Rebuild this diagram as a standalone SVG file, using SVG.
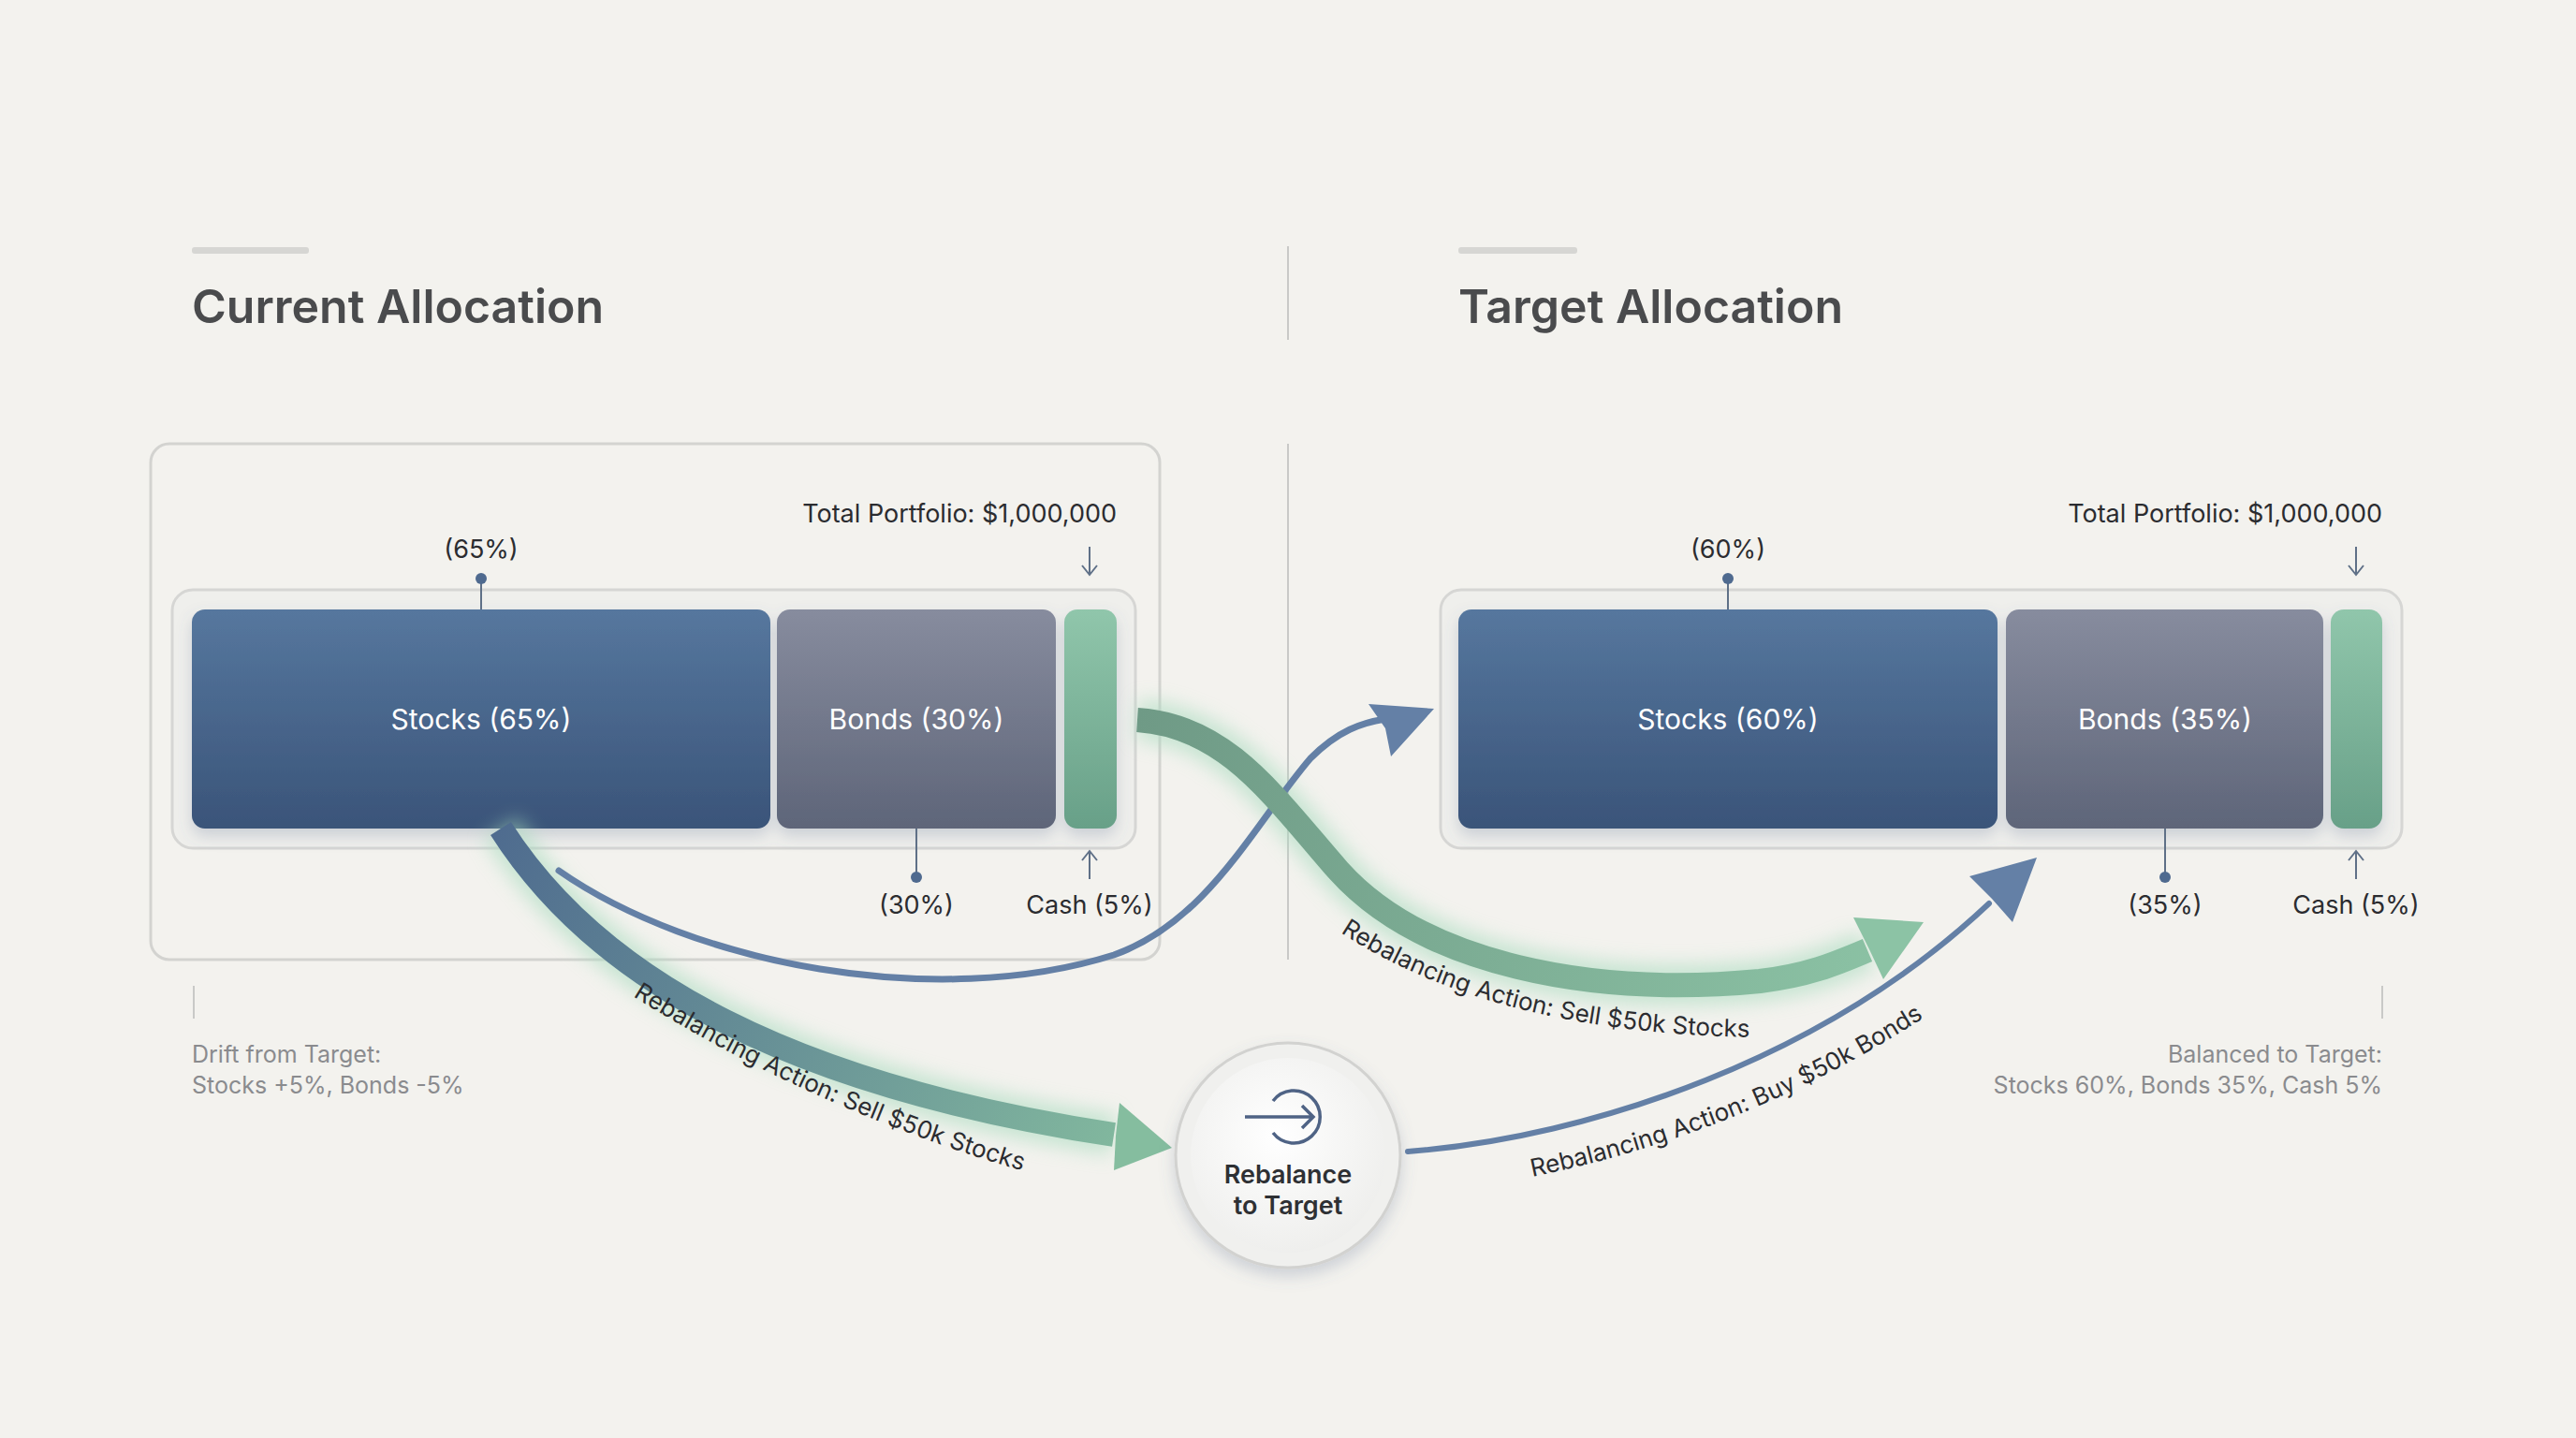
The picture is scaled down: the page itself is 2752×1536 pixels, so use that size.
<svg xmlns="http://www.w3.org/2000/svg" width="2752" height="1536" viewBox="0 0 2752 1536">
<defs>
<style>
.title{font-family:Inter,"Liberation Sans",sans-serif;font-size:50px;font-weight:600;fill:#4a4b4d}
.lbl{font-family:Inter,"Liberation Sans",sans-serif;font-size:27px;fill:#2b2c30}
.bar{font-family:Inter,"Liberation Sans",sans-serif;font-size:30px;fill:#ffffff;text-anchor:middle}
.note{font-family:Inter,"Liberation Sans",sans-serif;font-size:25px;fill:#8a8b8e}
.act{font-family:Inter,"Liberation Sans",sans-serif;font-size:26px;fill:#2b2c30}
.thin{stroke:#5f7087;stroke-width:2;fill:none}
.div{stroke:#c9c9c7;stroke-width:2}
</style>
<linearGradient id="gS" x1="0" y1="0" x2="0" y2="1"><stop offset="0" stop-color="#56779e"/><stop offset="1" stop-color="#3a5479"/></linearGradient>
<linearGradient id="gB" x1="0" y1="0" x2="0" y2="1"><stop offset="0" stop-color="#878c9e"/><stop offset="1" stop-color="#5e6579"/></linearGradient>
<linearGradient id="gC" x1="0" y1="0" x2="0" y2="1"><stop offset="0" stop-color="#90c6ab"/><stop offset="1" stop-color="#68a088"/></linearGradient>
<linearGradient id="gR1" gradientUnits="userSpaceOnUse" x1="535" y1="885" x2="1250" y2="1228"><stop offset="0" stop-color="#4f6c8f"/><stop offset="1" stop-color="#85bd9f"/></linearGradient>
<linearGradient id="gR2" gradientUnits="userSpaceOnUse" x1="1215" y1="769" x2="2055" y2="985"><stop offset="0" stop-color="#6f9a86"/><stop offset="1" stop-color="#8cc3a5"/></linearGradient>
<radialGradient id="gCirc" cx="0.45" cy="0.4" r="0.7"><stop offset="0" stop-color="#ffffff"/><stop offset="1" stop-color="#ececea"/></radialGradient>
<filter id="sh" x="-10%" y="-10%" width="120%" height="130%"><feDropShadow dx="0" dy="8" stdDeviation="8" flood-color="#5a6c90" flood-opacity="0.25"/></filter>
<filter id="glow" x="-20%" y="-20%" width="140%" height="140%"><feGaussianBlur stdDeviation="10"/></filter>
<path id="p1" d="M 676 1064 Q 880 1192 1115 1257"/>
<path id="p2" d="M 1432 996 Q 1600 1106 1885 1108"/>
<path id="p3" d="M 1637 1257 Q 1880 1207 2078 1072"/>
<path id="r2" d="M 1215 769 C 1310 775, 1360 850, 1430 930 C 1520 1030, 1700 1065, 1880 1048 C 1930 1042, 1960 1030, 1995 1015"/>
</defs>
<rect width="2752" height="1536" fill="#f3f2ee"/>

<g id="headers">
<rect x="205" y="264" width="125" height="7" rx="3" fill="#d6d6d3"/>
<text class="title" x="205" y="345">Current Allocation</text>
<rect x="1558" y="264" width="127" height="7" rx="3" fill="#d6d6d3"/>
<text class="title" x="1558" y="345">Target Allocation</text>
<line class="div" x1="1376" y1="263" x2="1376" y2="363"/>
<line class="div" x1="1376" y1="474" x2="1376" y2="1025"/>
</g>

<g id="current">
<rect x="161" y="474" width="1078" height="551" rx="20" fill="none" stroke="#d3d3d0" stroke-width="3"/>
<rect x="184" y="630" width="1029" height="276" rx="22" fill="#efefec" stroke="#d6d6d4" stroke-width="3"/>
<g filter="url(#sh)">
<rect x="205" y="651" width="618" height="234" rx="14" fill="url(#gS)"/>
<rect x="830" y="651" width="298" height="234" rx="14" fill="url(#gB)"/>
<rect x="1137" y="651" width="56" height="234" rx="14" fill="url(#gC)"/>
</g>
<text class="bar" x="514" y="779">Stocks (65%)</text>
<text class="bar" x="979" y="779">Bonds (30%)</text>
<text class="lbl" x="514" y="596" text-anchor="middle">(65%)</text>
<line class="thin" x1="514" y1="618" x2="514" y2="651"/><circle cx="514" cy="618" r="6" fill="#4f6a8f"/>
<text class="lbl" x="1193" y="558" text-anchor="end">Total Portfolio: $1,000,000</text>
<path class="thin" d="M1164 584 V614 M1156 604 L1164 614 L1172 604" stroke="#666"/>
<line class="thin" x1="979" y1="885" x2="979" y2="937"/><circle cx="979" cy="937" r="6" fill="#4f6a8f"/>
<text class="lbl" x="979" y="976" text-anchor="middle">(30%)</text>
<path class="thin" d="M1164 939 V909 M1156 919 L1164 909 L1172 919" stroke="#666"/>
<text class="lbl" x="1164" y="976" text-anchor="middle">Cash (5%)</text>
<line class="div" x1="207" y1="1053" x2="207" y2="1088"/>
<text class="note" x="205" y="1135">Drift from Target:</text>
<text class="note" x="205" y="1168">Stocks +5%, Bonds -5%</text>
</g>

<g id="target">
<rect x="1539" y="630" width="1027" height="276" rx="22" fill="#efefec" stroke="#d6d6d4" stroke-width="3"/>
<g filter="url(#sh)">
<rect x="1558" y="651" width="576" height="234" rx="14" fill="url(#gS)"/>
<rect x="2143" y="651" width="339" height="234" rx="14" fill="url(#gB)"/>
<rect x="2490" y="651" width="55" height="234" rx="14" fill="url(#gC)"/>
</g>
<text class="bar" x="1846" y="779">Stocks (60%)</text>
<text class="bar" x="2313" y="779">Bonds (35%)</text>
<text class="lbl" x="1846" y="596" text-anchor="middle">(60%)</text>
<line class="thin" x1="1846" y1="618" x2="1846" y2="651"/><circle cx="1846" cy="618" r="6" fill="#4f6a8f"/>
<text class="lbl" x="2545" y="558" text-anchor="end">Total Portfolio: $1,000,000</text>
<path class="thin" d="M2517 584 V614 M2509 604 L2517 614 L2525 604" stroke="#666"/>
<line class="thin" x1="2313" y1="885" x2="2313" y2="937"/><circle cx="2313" cy="937" r="6" fill="#4f6a8f"/>
<text class="lbl" x="2313" y="976" text-anchor="middle">(35%)</text>
<path class="thin" d="M2517 939 V909 M2509 919 L2517 909 L2525 919" stroke="#666"/>
<text class="lbl" x="2517" y="976" text-anchor="middle">Cash (5%)</text>
<line class="div" x1="2545" y1="1053" x2="2545" y2="1088"/>
<text class="note" x="2545" y="1135" text-anchor="end">Balanced to Target:</text>
<text class="note" x="2545" y="1168" text-anchor="end">Stocks 60%, Bonds 35%, Cash 5%</text>
</g>

<g id="connectors">
<path d="M 535 885 C 640 1050, 850 1160, 1190 1212" fill="none" stroke="#a9dcbf" stroke-width="44" opacity="0.6" filter="url(#glow)"/>
<use href="#r2" fill="none" stroke="#a9dcbf" stroke-width="44" opacity="0.6" filter="url(#glow)"/>
<path d="M 597 930 C 740 1030, 1000 1080, 1190 1020 C 1290 985, 1340 880, 1400 810 C 1430 780, 1455 772, 1480 768" fill="none" stroke="#6480a6" stroke-width="7" stroke-linecap="round"/>
<polygon points="1532,757 1486,808 1480,778 1462,752" fill="#6480a6"/>
<path d="M 535 885 C 640 1050, 850 1160, 1190 1212" fill="none" stroke="url(#gR1)" stroke-width="26"/>
<polygon points="1252,1226 1190,1250 1192,1213 1196,1178" fill="#85bd9f"/>
<use href="#r2" fill="none" stroke="url(#gR2)" stroke-width="26"/>
<polygon points="2055,985 2012,1046 1997,1014 1980,980" fill="#8cc3a5"/>
<path d="M 1504 1230 C 1700 1215, 1950 1130, 2125 965" fill="none" stroke="#6480a6" stroke-width="6" stroke-linecap="round"/>
<polygon points="2176,916 2150,985 2128,960 2104,936" fill="#6480a6"/>
<text class="act"><textPath href="#p1">Rebalancing Action: Sell $50k Stocks</textPath></text>
<text class="act"><textPath href="#p2">Rebalancing Action: Sell $50k Stocks</textPath></text>
<text class="act"><textPath href="#p3">Rebalancing Action: Buy $50k Bonds</textPath></text>
</g>

<g id="rebalance">
<circle cx="1376" cy="1234" r="120" fill="#f0f0ee" stroke="#d2d2d0" stroke-width="3" filter="url(#sh)"/>
<circle cx="1376" cy="1234" r="104" fill="url(#gCirc)"/>
<path d="M 1360 1176 A 28 28 0 1 1 1360 1210" fill="none" stroke="#4f6385" stroke-width="3.5"/>
<path d="M 1330 1193 H 1403 M 1391 1181 L 1403 1193 L 1391 1205" fill="none" stroke="#4f6385" stroke-width="3.5"/>
<text x="1376" y="1264" text-anchor="middle" font-family="Inter,'Liberation Sans',sans-serif" font-size="27" font-weight="600" fill="#2e3034">Rebalance</text>
<text x="1376" y="1297" text-anchor="middle" font-family="Inter,'Liberation Sans',sans-serif" font-size="27" font-weight="600" fill="#2e3034">to Target</text>
</g>
</svg>
